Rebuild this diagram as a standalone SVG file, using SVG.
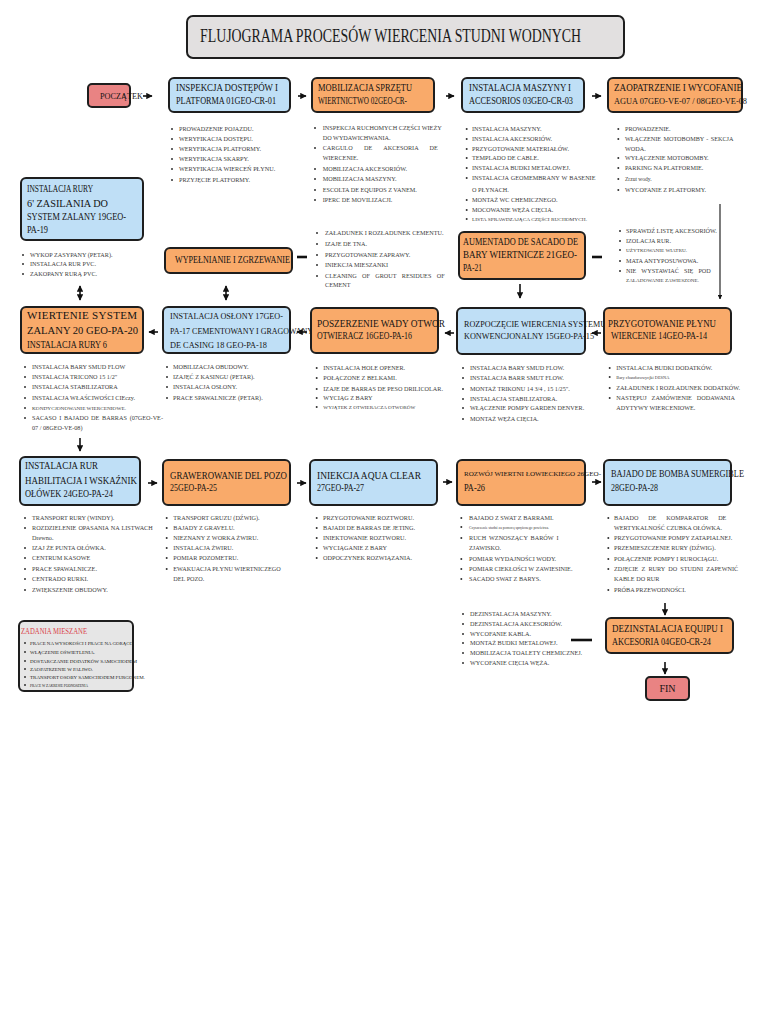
<svg xmlns="http://www.w3.org/2000/svg" xmlns:xlink="http://www.w3.org/1999/xlink" width="768" height="1024" viewBox="0 0 768 1024">
<style>
.box{stroke:#1e1e1e;stroke-width:2}
.blue{fill:#bfdff6}
.orange{fill:#f9aa6a}
.pink{fill:#e98383}
.gray{fill:#e2e0e0}
.t{font-family:"Liberation Serif","Times New Roman",serif;font-size:10.5px;fill:#141414}
.b{font-size:11px}
.tt{font-family:"Liberation Serif","Times New Roman",serif;font-size:18px;fill:#1a1a1a}
.l{font-family:"Liberation Serif","Times New Roman",serif;font-size:6.2px;fill:#3c3c3c}
.sm{font-size:4.6px}
.xs{font-size:3.6px}
.z{font-family:"Liberation Serif","Times New Roman",serif;font-size:4.6px;fill:#222}
.zt{font-family:"Liberation Serif","Times New Roman",serif;font-size:7.5px;fill:#d9434a}
.ar{stroke:#111;stroke-width:1.6;fill:none;marker-end:url(#ah)}
.dash{stroke:#111;stroke-width:2.6}
</style>
<defs>
<marker id="ah" viewBox="0 0 10 10" refX="9" refY="5" markerWidth="4" markerHeight="4" orient="auto-start-reverse"><path d="M0,0 L10,5 L0,10 z" fill="#111"/></marker>
<circle id="dot" cx="0" cy="0" r="1" fill="#333"/>
</defs>
<rect width="768" height="1024" fill="#fff"/>

<g id="connectors">
<line class="ar" x1="143" y1="96" x2="152" y2="96"/>
<line class="ar" x1="298" y1="96" x2="306" y2="96"/>
<line class="ar" x1="446" y1="96" x2="454" y2="96"/>
<line class="ar" x1="592" y1="96" x2="601" y2="96"/>
<line class="ar" x1="720" y1="204" x2="720" y2="299" style="stroke-width:1.1"/>
<line class="ar" x1="520" y1="284" x2="520" y2="298"/>
<line class="ar" x1="80" y1="286" x2="80" y2="300" style="marker-start:url(#ah)"/>
<line class="ar" x1="226" y1="286" x2="226" y2="300" style="marker-start:url(#ah)"/>
<line class="dash" x1="297" y1="257" x2="307" y2="257"/>
<line class="dash" x1="592" y1="257" x2="602" y2="257"/>
<line class="ar" x1="601" y1="333" x2="592" y2="333"/>
<line class="ar" x1="454" y1="333" x2="445" y2="333"/>
<line class="ar" x1="307" y1="332" x2="297" y2="332"/>
<line class="ar" x1="158" y1="332" x2="149" y2="332"/>
<line class="ar" x1="80" y1="438" x2="80" y2="451"/>
<line class="ar" x1="148" y1="483" x2="157" y2="483"/>
<line class="ar" x1="297" y1="483" x2="306" y2="483"/>
<line class="ar" x1="443" y1="482" x2="452" y2="482"/>
<line class="ar" x1="592" y1="482" x2="601" y2="482"/>
<line class="ar" x1="665" y1="603" x2="665" y2="615"/>
<line class="dash" x1="571" y1="640" x2="592" y2="640"/>
<line class="ar" x1="665" y1="662" x2="665" y2="674"/>
</g>

<g id="title">
<rect class="box gray" x="187" y="16" width="437" height="42" rx="6"/>
<text class="tt" x="200" y="42" textLength="381" lengthAdjust="spacingAndGlyphs">FLUJOGRAMA PROCESÓW WIERCENIA STUDNI WODNYCH</text>
</g>

<g id="n-poczatek">
<rect class="box pink" x="88" y="84" width="42" height="23" rx="4"/>
<text class="t" x="100" y="99" style="font-size:9px" textLength="43" lengthAdjust="spacingAndGlyphs">POCZĄTEK</text>
</g>

<g id="n-inspekcja">
<rect class="box blue" x="169" y="78" width="121" height="34" rx="5"/>
<text class="t" x="176" y="91" textLength="102" lengthAdjust="spacingAndGlyphs">INSPEKCJA DOSTĘPÓW I</text>
<text class="t" x="176" y="104" textLength="100" lengthAdjust="spacingAndGlyphs">PLATFORMA 01GEO-CR-01</text>
</g>
<g id="list-inspekcja">
<use xlink:href="#dot" x="172" y="129"/><text class="l" x="179" y="131">PROWADZENIE POJAZDU.</text>
<use xlink:href="#dot" x="172" y="139"/><text class="l" x="179" y="141">WERYFIKACJA DOSTĘPU.</text>
<use xlink:href="#dot" x="172" y="149"/><text class="l" x="179" y="151">WERYFIKACJA PLATFORMY.</text>
<use xlink:href="#dot" x="172" y="159"/><text class="l" x="179" y="161">WERYFIKACJA SKARPY.</text>
<use xlink:href="#dot" x="172" y="169"/><text class="l" x="179" y="171">WERYFIKACJA WIERCEŃ PŁYNU.</text>
<use xlink:href="#dot" x="172" y="180"/><text class="l" x="179" y="182">PRZYJĘCIE PLATFORMY.</text>
</g>

<g id="n-mobilizacja">
<rect class="box orange" x="312" y="78" width="122" height="34" rx="5"/>
<text class="t" x="318" y="91" textLength="94" lengthAdjust="spacingAndGlyphs">MOBILIZACJA SPRZĘTU</text>
<text class="t" x="318" y="104" textLength="89" lengthAdjust="spacingAndGlyphs">WIERTNICTWO 02GEO-CR-</text>
</g>
<g id="list-mobilizacja">
<use xlink:href="#dot" x="315" y="128"/><text class="l" x="322.7" y="130" textLength="119" lengthAdjust="spacingAndGlyphs">INSPEKCJA RUCHOMYCH CZĘŚCI WIEŻY</text>
<text class="l" x="322.7" y="140">DO WYDAWICHWANIA.</text>
<use xlink:href="#dot" x="315" y="148"/><text class="l" x="322.7" y="150" word-spacing="9.8">CARGULO DE AKCESORIA DE</text>
<text class="l" x="322.7" y="160">WIERCENIE.</text>
<use xlink:href="#dot" x="315" y="169"/><text class="l" x="322.7" y="171">MOBILIZACJA AKCESORIÓW.</text>
<use xlink:href="#dot" x="315" y="179"/><text class="l" x="322.7" y="181">MOBILIZACJA MASZYNY.</text>
<use xlink:href="#dot" x="315" y="190"/><text class="l" x="322.7" y="192">ESCOLTA DE EQUIPOS Z VANEM.</text>
<use xlink:href="#dot" x="315" y="200"/><text class="l" x="322.7" y="202">IPERC DE MOVILIZACJI.</text>
</g>

<g id="n-instalacja-maszyny">
<rect class="box blue" x="462" y="78" width="122" height="34" rx="5"/>
<text class="t" x="469" y="91" textLength="102" lengthAdjust="spacingAndGlyphs">INSTALACJA MASZYNY I</text>
<text class="t" x="469" y="104" textLength="104" lengthAdjust="spacingAndGlyphs">ACCESORIOS 03GEO-CR-03</text>
</g>
<g id="list-instalacja-maszyny">
<use xlink:href="#dot" x="466.7" y="129"/><text class="l" x="472" y="131">INSTALACJA MASZYNY.</text>
<use xlink:href="#dot" x="466.7" y="139"/><text class="l" x="472" y="141">INSTALACJA AKCESORIÓW.</text>
<use xlink:href="#dot" x="466.7" y="149"/><text class="l" x="472" y="151">PRZYGOTOWANIE MATERIAŁÓW.</text>
<use xlink:href="#dot" x="466.7" y="158"/><text class="l" x="472" y="160">TEMPLADO DE CABLE.</text>
<use xlink:href="#dot" x="466.7" y="168"/><text class="l" x="472" y="170">INSTALACJA BUDKI METALOWEJ.</text>
<use xlink:href="#dot" x="466.7" y="178"/><text class="l" x="472" y="180" word-spacing="0.5">INSTALACJA GEOMEMBRANY W BASENIE</text>
<text class="l" x="472" y="192">O PŁYNACH.</text>
<use xlink:href="#dot" x="466.7" y="200"/><text class="l" x="472" y="202">MONTAŻ WC CHEMICZNEGO.</text>
<use xlink:href="#dot" x="466.7" y="210"/><text class="l" x="472" y="212">MOCOWANIE WĘŻA CIĘCIA.</text>
<use xlink:href="#dot" x="466.7" y="219"/><text class="l sm" x="472" y="221" textLength="115" lengthAdjust="spacingAndGlyphs">LISTA SPRAWDZAJĄCA CZĘŚCI RUCHOMYCH.</text>
</g>

<g id="n-zaopatrzenie">
<rect class="box orange" x="608" y="78" width="134" height="34" rx="5"/>
<text class="t" x="614" y="91" textLength="128" lengthAdjust="spacingAndGlyphs">ZAOPATRZENIE I WYCOFANIE</text>
<text class="t" x="614" y="104" style="font-size:9.2px" textLength="133" lengthAdjust="spacingAndGlyphs">AGUA 07GEO-VE-07 / 08GEO-VE-08</text>
</g>
<g id="list-zaopatrzenie">
<use xlink:href="#dot" x="618.3" y="129"/><text class="l" x="625" y="131">PROWADZENIE.</text>
<use xlink:href="#dot" x="618.3" y="139"/><text class="l" x="625" y="141" word-spacing="0.8">WŁĄCZENIE MOTOBOMBY - SEKCJA</text>
<text class="l" x="625" y="151">WODA.</text>
<use xlink:href="#dot" x="618.3" y="158"/><text class="l" x="625" y="160">WYŁĄCZENIE MOTOBOMBY.</text>
<use xlink:href="#dot" x="618.3" y="168"/><text class="l" x="625" y="170">PARKING NA PLATFORMIE.</text>
<use xlink:href="#dot" x="618.3" y="179"/><text class="l" x="625" y="181" style="font-size:5.5px">Zrzut wody.</text>
<use xlink:href="#dot" x="618.3" y="190"/><text class="l" x="625" y="192">WYCOFANIE Z PLATFORMY.</text>
</g>

<g id="n-instalacja-rury">
<rect class="box blue" x="21" y="178" width="122" height="62" rx="5"/>
<text class="t b" x="27" y="192" textLength="66" lengthAdjust="spacingAndGlyphs">INSTALACJA RURY</text>
<text class="t b" x="27" y="207" textLength="81" lengthAdjust="spacingAndGlyphs">6' ZASILANIA DO</text>
<text class="t b" x="27" y="220" textLength="99" lengthAdjust="spacingAndGlyphs">SYSTEM ZALANY 19GEO-</text>
<text class="t b" x="27" y="233" textLength="21" lengthAdjust="spacingAndGlyphs">PA-19</text>
</g>
<g id="list-instalacja-rury">
<use xlink:href="#dot" x="23" y="255"/><text class="l" x="30" y="257">WYKOP ZASYPANY (PETAR).</text>
<use xlink:href="#dot" x="23" y="264"/><text class="l" x="30" y="266">INSTALACJA RUR PVC.</text>
<use xlink:href="#dot" x="23" y="274"/><text class="l" x="30" y="276">ZAKOPANY RURĄ PVC.</text>
</g>

<g id="n-wypelnianie">
<rect class="box orange" x="165" y="248" width="127" height="25" rx="5"/>
<text class="t" x="175" y="263" style="font-size:10px" textLength="115" lengthAdjust="spacingAndGlyphs">WYPEŁNIANIE I ZGRZEWANIE</text>
</g>
<g id="list-wypelnianie">
<use xlink:href="#dot" x="317" y="233"/><text class="l" x="325" y="235">ZAŁADUNEK I ROZŁADUNEK CEMENTU.</text>
<use xlink:href="#dot" x="317" y="244"/><text class="l" x="325" y="246">IZAJE DE TNA.</text>
<use xlink:href="#dot" x="317" y="255"/><text class="l" x="325" y="257">PRZYGOTOWANIE ZAPRAWY.</text>
<use xlink:href="#dot" x="317" y="265"/><text class="l" x="325" y="267">INIEKCJA MIESZANKI</text>
<use xlink:href="#dot" x="317" y="276"/><text class="l" x="325" y="278" word-spacing="3.8">CLEANING OF GROUT RESIDUES OF</text>
<text class="l" x="325" y="287">CEMENT</text>
</g>

<g id="n-aumentado">
<rect class="box orange" x="459" y="232" width="126" height="47" rx="5"/>
<text class="t b" x="463" y="245" textLength="115" lengthAdjust="spacingAndGlyphs">AUMENTADO DE SACADO DE</text>
<text class="t b" x="463" y="258" textLength="114" lengthAdjust="spacingAndGlyphs">BARY WIERTNICZE 21GEO-</text>
<text class="t b" x="463" y="271" textLength="19" lengthAdjust="spacingAndGlyphs">PA-21</text>
</g>
<g id="list-aumentado">
<use xlink:href="#dot" x="620" y="231"/><text class="l" x="626" y="233">SPRAWDŹ LISTĘ AKCESORIÓW.</text>
<use xlink:href="#dot" x="620" y="241"/><text class="l" x="626" y="243">IZOLACJA RUR.</text>
<use xlink:href="#dot" x="620" y="250"/><text class="l sm" x="626" y="252" textLength="61" lengthAdjust="spacingAndGlyphs">UŻYTKOWANIE WIATRU.</text>
<use xlink:href="#dot" x="620" y="261"/><text class="l" x="626" y="263">MATA ANTYPOSUWOWA.</text>
<use xlink:href="#dot" x="620" y="271"/><text class="l" x="626" y="273" word-spacing="3.6">NIE WYSTAWIAĆ SIĘ POD</text>
<text class="l sm" x="626" y="282" textLength="73" lengthAdjust="spacingAndGlyphs">ZAŁADOWANIE ZAWIESZONE.</text>
</g>

<g id="n-wiertenie">
<rect class="box orange" x="21" y="307" width="122" height="46" rx="5"/>
<text class="t b" x="27" y="319" textLength="110" lengthAdjust="spacing">WIERTENIE SYSTEM</text>
<text class="t b" x="27" y="334" textLength="111" lengthAdjust="spacingAndGlyphs">ZALANY 20 GEO-PA-20</text>
<text class="t b" x="27" y="348" textLength="80" lengthAdjust="spacingAndGlyphs">INSTALACJA RURY 6</text>
</g>
<g id="list-wiertenie">
<use xlink:href="#dot" x="25" y="367"/><text class="l" x="32" y="369">INSTALACJA BARY SMUD FLOW</text>
<use xlink:href="#dot" x="25" y="377"/><text class="l" x="32" y="379">INSTALACJA TRICONO 15 1/2"</text>
<use xlink:href="#dot" x="25" y="387"/><text class="l" x="32" y="389">INSTALACJA STABILIZATORA</text>
<use xlink:href="#dot" x="25" y="398"/><text class="l" x="32" y="400">INSTALACJA WŁAŚCIWOŚCI CIEczy.</text>
<use xlink:href="#dot" x="25" y="408"/><text class="l sm" x="32" y="410" textLength="94" lengthAdjust="spacingAndGlyphs">KONDYCJONOWANIE WIERCENIOWE.</text>
<use xlink:href="#dot" x="25" y="418"/><text class="l" x="32" y="420" word-spacing="1.2">SACASO I BAJADO DE BARRAS (07GEO-VE-</text>
<text class="l" x="32" y="430">07 / 08GEO-VE-08)</text>
</g>

<g id="n-oslony">
<rect class="box blue" x="163" y="307" width="127" height="46" rx="5"/>
<text class="t" x="170" y="319" style="font-size:8.2px" textLength="113" lengthAdjust="spacingAndGlyphs">INSTALACJA OSŁONY 17GEO-</text>
<text class="t" x="170" y="334" style="font-size:7.9px" textLength="143" lengthAdjust="spacingAndGlyphs">PA-17 CEMENTOWANY I GRAGOWANY</text>
<text class="t" x="170" y="348" style="font-size:8.2px" textLength="97" lengthAdjust="spacingAndGlyphs">DE CASING 18 GEO-PA-18</text>
</g>
<g id="list-oslony">
<use xlink:href="#dot" x="167" y="367"/><text class="l" x="173" y="369">MOBILIZACJA OBUDOWY.</text>
<use xlink:href="#dot" x="167" y="377"/><text class="l" x="173" y="379">IZAJĘĆ Z KASINGU (PETAR).</text>
<use xlink:href="#dot" x="167" y="387"/><text class="l" x="173" y="389">INSTALACJA OSŁONY.</text>
<use xlink:href="#dot" x="167" y="398"/><text class="l" x="173" y="400">PRACE SPAWALNICZE (PETAR).</text>
</g>

<g id="n-poszerzenie">
<rect class="box orange" x="311" y="308" width="127" height="45" rx="5"/>
<text class="t" x="317" y="327" style="font-size:10.2px" textLength="128" lengthAdjust="spacingAndGlyphs">POSZERZENIE WADY OTWOR</text>
<text class="t" x="317" y="339" style="font-size:10.2px" textLength="95" lengthAdjust="spacingAndGlyphs">OTWIERACZ 16GEO-PA-16</text>
</g>
<g id="list-poszerzenie">
<use xlink:href="#dot" x="316.7" y="368"/><text class="l" x="323.3" y="370">INSTALACJA HOLE OPENER.</text>
<use xlink:href="#dot" x="316.7" y="378"/><text class="l" x="323.3" y="380">POŁĄCZONE Z BELKAMI.</text>
<use xlink:href="#dot" x="316.7" y="389"/><text class="l" x="323.3" y="391">IZAJE DE BARRAS DE PESO DRILICOLAR.</text>
<use xlink:href="#dot" x="316.7" y="398"/><text class="l" x="323.3" y="400">WYCIĄG Z BARY</text>
<use xlink:href="#dot" x="316.7" y="407"/><text class="l sm" x="323.3" y="409" textLength="92" lengthAdjust="spacingAndGlyphs">WYJĄTEK Z OTWIERACZA OTWORÓW</text>
</g>

<g id="n-rozpoczecie">
<rect class="box blue" x="457" y="308" width="128" height="46" rx="5"/>
<text class="t" x="464" y="327" style="font-size:8.1px" textLength="142" lengthAdjust="spacingAndGlyphs">ROZPOCZĘCIE WIERCENIA SYSTEMU</text>
<text class="t" x="464" y="339" style="font-size:8.1px" textLength="130" lengthAdjust="spacingAndGlyphs">KONWENCJONALNY 15GEO-PA-15</text>
</g>
<g id="list-rozpoczecie">
<use xlink:href="#dot" x="463" y="368"/><text class="l" x="470" y="370">INSTALACJA BARY SMUD FLOW.</text>
<use xlink:href="#dot" x="463" y="378"/><text class="l" x="470" y="380">INSTALACJA BARR SMUT FLOW.</text>
<use xlink:href="#dot" x="463" y="389"/><text class="l" x="470" y="391">MONTAŻ TRIKONU 14 3/4 , 15 1/25".</text>
<use xlink:href="#dot" x="463" y="399"/><text class="l" x="470" y="401">INSTALACJA STABILIZATORA.</text>
<use xlink:href="#dot" x="463" y="408"/><text class="l" x="470" y="410">WŁĄCZENIE POMPY GARDEN DENVER.</text>
<use xlink:href="#dot" x="463" y="419"/><text class="l" x="470" y="421">MONTAŻ WĘŻA CIĘCIA.</text>
</g>

<g id="n-przygotowanie">
<rect class="box orange" x="604" y="308" width="127" height="46" rx="5"/>
<text class="t" x="608" y="327" textLength="108" lengthAdjust="spacingAndGlyphs">PRZYGOTOWANIE PŁYNU</text>
<text class="t" x="611" y="339" textLength="96" lengthAdjust="spacingAndGlyphs">WIERCENIE 14GEO-PA-14</text>
</g>
<g id="list-przygotowanie">
<use xlink:href="#dot" x="609.7" y="368"/><text class="l" x="616.3" y="370">INSTALACJA BUDKI DODATKÓW.</text>
<use xlink:href="#dot" x="609.7" y="377"/><text class="l xs" x="616.3" y="379" textLength="53" lengthAdjust="spacingAndGlyphs">Bary chandorowycjki DESNA</text>
<use xlink:href="#dot" x="609.7" y="388"/><text class="l" x="616.3" y="390">ZAŁADUNEK I ROZŁADUNEK DODATKÓW.</text>
<use xlink:href="#dot" x="609.7" y="398"/><text class="l" x="616.3" y="400" word-spacing="3.5">NASTĘPUJ ZAMÓWIENIE DODAWANIA</text>
<text class="l" x="616.3" y="410">ADYTYWY WIERCENIOWE.</text>
</g>

<g id="n-instalacja-rur">
<rect class="box blue" x="20" y="457" width="120" height="48" rx="5"/>
<text class="t b" x="25" y="469" textLength="73" lengthAdjust="spacingAndGlyphs">INSTALACJA RUR</text>
<text class="t b" x="25" y="484" textLength="112" lengthAdjust="spacingAndGlyphs">HABILITACJA I WSKAŹNIK</text>
<text class="t b" x="25" y="497" textLength="88" lengthAdjust="spacingAndGlyphs">OŁÓWEK 24GEO-PA-24</text>
</g>
<g id="list-instalacja-rur">
<use xlink:href="#dot" x="25" y="518"/><text class="l" x="32" y="520">TRANSPORT RURY (WINDY).</text>
<use xlink:href="#dot" x="25" y="528"/><text class="l" x="32" y="530" word-spacing="0.5">ROZDZIELENIE OPASANIA NA LISTWACH</text>
<text class="l" x="32" y="540">Drewno.</text>
<use xlink:href="#dot" x="25" y="548"/><text class="l" x="32" y="550">IZAJ ŻE PUNTA OŁÓWKA.</text>
<use xlink:href="#dot" x="25" y="558"/><text class="l" x="32" y="560">CENTRUM KASOWE</text>
<use xlink:href="#dot" x="25" y="569"/><text class="l" x="32" y="571">PRACE SPAWALNICZE.</text>
<use xlink:href="#dot" x="25" y="579"/><text class="l" x="32" y="581">CENTRADO RURKI.</text>
<use xlink:href="#dot" x="25" y="590"/><text class="l" x="32" y="592">ZWIĘKSZENIE OBUDOWY.</text>
</g>

<g id="n-grawerowanie">
<rect class="box orange" x="163" y="460" width="127" height="45" rx="5"/>
<text class="t" x="170" y="479" textLength="117" lengthAdjust="spacingAndGlyphs">GRAWEROWANIE DEL POZO</text>
<text class="t" x="170" y="491" textLength="47" lengthAdjust="spacingAndGlyphs">25GEO-PA-25</text>
</g>
<g id="list-grawerowanie">
<use xlink:href="#dot" x="166.7" y="518"/><text class="l" x="173.3" y="520">TRANSPORT GRUZU (DŹWIG).</text>
<use xlink:href="#dot" x="166.7" y="528"/><text class="l" x="173.3" y="530">BAJADY Z GRAVELU.</text>
<use xlink:href="#dot" x="166.7" y="538"/><text class="l" x="173.3" y="540">NIEZNANY Z WORKA ŻWIRU.</text>
<use xlink:href="#dot" x="166.7" y="548"/><text class="l" x="173.3" y="550">INSTALACJA ŻWIRU.</text>
<use xlink:href="#dot" x="166.7" y="558"/><text class="l" x="173.3" y="560">POMIAR POZOMETRU.</text>
<use xlink:href="#dot" x="166.7" y="569"/><text class="l" x="173.3" y="571">EWAKUACJA PŁYNU WIERTNICZEGO</text>
<text class="l" x="173.3" y="581">DEL POZO.</text>
</g>

<g id="n-iniekcja">
<rect class="box blue" x="310" y="460" width="127" height="45" rx="5"/>
<text class="t" x="317" y="479" textLength="104" lengthAdjust="spacingAndGlyphs">INIEKCJA AQUA CLEAR</text>
<text class="t" x="317" y="491" textLength="47" lengthAdjust="spacingAndGlyphs">27GEO-PA-27</text>
</g>
<g id="list-iniekcja">
<use xlink:href="#dot" x="316.7" y="518"/><text class="l" x="323" y="520">PRZYGOTOWANIE ROZTWORU.</text>
<use xlink:href="#dot" x="316.7" y="528"/><text class="l" x="323" y="530">BAJADI DE BARRAS DE JETING.</text>
<use xlink:href="#dot" x="316.7" y="538"/><text class="l" x="323" y="540">INIEKTOWANIE ROZTWORU.</text>
<use xlink:href="#dot" x="316.7" y="548"/><text class="l" x="323" y="550">WYCIĄGANIE Z BARY</text>
<use xlink:href="#dot" x="316.7" y="558"/><text class="l" x="323" y="560">ODPOCZYNEK ROZWIĄZANIA.</text>
</g>

<g id="n-rozwoj">
<rect class="box orange" x="457" y="460" width="128" height="45" rx="5"/>
<text class="t" x="464" y="476" style="font-size:7px" textLength="137" lengthAdjust="spacingAndGlyphs">ROZWÓJ WIERTNI ŁOWIECKIEGO 26GEO-</text>
<text class="t" x="464" y="491" textLength="21" lengthAdjust="spacingAndGlyphs">PA-26</text>
</g>
<g id="list-rozwoj">
<use xlink:href="#dot" x="461.3" y="518"/><text class="l" x="469" y="520">BAJADO Z SWAT Z BARRAMI.</text>
<use xlink:href="#dot" x="461.3" y="527"/><text class="l xs" x="469" y="529" textLength="80" lengthAdjust="spacingAndGlyphs">Czyszczenie studni za pomocą sprężonego powietrza.</text>
<use xlink:href="#dot" x="461.3" y="538"/><text class="l" x="469" y="540" word-spacing="1.4">RUCH WZNOSZĄCY BARÓW I</text>
<text class="l" x="469" y="550">ZJAWISKO.</text>
<use xlink:href="#dot" x="461.3" y="559"/><text class="l" x="469" y="561">POMIAR WYDAJNOŚCI WODY.</text>
<use xlink:href="#dot" x="461.3" y="569"/><text class="l" x="469" y="571">POMIAR CIEKŁOŚCI W ZAWIESINIE.</text>
<use xlink:href="#dot" x="461.3" y="579"/><text class="l" x="469" y="581">SACADO SWAT Z BARYS.</text>
</g>

<g id="n-bajado-bomba">
<rect class="box blue" x="604" y="460" width="127" height="45" rx="5"/>
<text class="t" x="611" y="477" style="font-size:9.5px" textLength="133" lengthAdjust="spacingAndGlyphs">BAJADO DE BOMBA SUMERGIBLE</text>
<text class="t" x="611" y="491" textLength="47" lengthAdjust="spacingAndGlyphs">28GEO-PA-28</text>
</g>
<g id="list-bajado-bomba">
<use xlink:href="#dot" x="608.3" y="518"/><text class="l" x="614" y="520" word-spacing="8.3">BAJADO DE KOMPARATOR DE</text>
<text class="l" x="614" y="530">WERTYKALNOŚĆ CZUBKA OŁÓWKA.</text>
<use xlink:href="#dot" x="608.3" y="538"/><text class="l" x="614" y="540">PRZYGOTOWANIE POMPY ZATAPIALNEJ.</text>
<use xlink:href="#dot" x="608.3" y="548"/><text class="l" x="614" y="550">PRZEMIESZCZENIE RURY (DŹWIG).</text>
<use xlink:href="#dot" x="608.3" y="559"/><text class="l" x="614" y="561">POŁĄCZENIE POMPY I RUROCIĄGU.</text>
<use xlink:href="#dot" x="608.3" y="569"/><text class="l" x="614" y="571" word-spacing="1.6">ZDJĘCIE Z RURY DO STUDNI ZAPEWNIĆ</text>
<text class="l" x="614" y="581">KABLE DO RUR</text>
<use xlink:href="#dot" x="608.3" y="590"/><text class="l" x="614" y="592">PRÓBA PRZEWODNOŚCI.</text>
</g>

<g id="n-dezinstalacja">
<rect class="box orange" x="606" y="618" width="127" height="35" rx="5"/>
<text class="t" x="612" y="632" textLength="111" lengthAdjust="spacingAndGlyphs">DEZINSTALACJA EQUIPU I</text>
<text class="t" x="612" y="645" textLength="99" lengthAdjust="spacingAndGlyphs">AKCESORIA 04GEO-CR-24</text>
</g>
<g id="list-dezinstalacja">
<use xlink:href="#dot" x="463" y="614"/><text class="l" x="470" y="616">DEZINSTALACJA MASZYNY.</text>
<use xlink:href="#dot" x="463" y="624"/><text class="l" x="470" y="626">DEZINSTALACJA AKCESORIÓW.</text>
<use xlink:href="#dot" x="463" y="634"/><text class="l" x="470" y="636">WYCOFANIE KABLA.</text>
<use xlink:href="#dot" x="463" y="643"/><text class="l" x="470" y="645">MONTAŻ BUDKI METALOWEJ.</text>
<use xlink:href="#dot" x="463" y="653"/><text class="l" x="470" y="655">MOBILIZACJA TOALETY CHEMICZNEJ.</text>
<use xlink:href="#dot" x="463" y="663"/><text class="l" x="470" y="665">WYCOFANIE CIĘCIA WĘŻA.</text>
</g>

<g id="n-fin">
<rect class="box pink" x="646" y="677" width="43" height="23" rx="4"/>
<text class="t" x="667.5" y="692" text-anchor="middle" style="font-size:10px">FIN</text>
</g>

<g id="n-zadania">
<rect class="box" x="19" y="621" width="114" height="70" rx="5" style="fill:#e6e6e6"/>
<text class="zt" x="21" y="634" textLength="66" lengthAdjust="spacingAndGlyphs">ZADANIA MIESZANE</text>
<use xlink:href="#dot" x="25" y="643"/><text class="z" x="30" y="645" textLength="103" lengthAdjust="spacingAndGlyphs">PRACE NA WYSOKOŚCI I PRACE NA GORĄCO</text>
<use xlink:href="#dot" x="25" y="652"/><text class="z" x="30" y="654" textLength="65" lengthAdjust="spacingAndGlyphs">WŁĄCZENIE OŚWIETLENIA.</text>
<use xlink:href="#dot" x="25" y="661"/><text class="z" x="30" y="663" textLength="107" lengthAdjust="spacingAndGlyphs">DOSTARCZANIE DODATKÓW SAMOCHODEM</text>
<use xlink:href="#dot" x="25" y="669"/><text class="z" x="30" y="671" textLength="63" lengthAdjust="spacingAndGlyphs">ZAOPATRZENIE W PALIWO.</text>
<use xlink:href="#dot" x="25" y="677"/><text class="z" x="30" y="679" textLength="115" lengthAdjust="spacingAndGlyphs">TRANSPORT OSOBY SAMOCHODEM FURGONEM.</text>
<use xlink:href="#dot" x="25" y="685"/><text class="z" x="30" y="687" style="font-size:3.4px" textLength="58" lengthAdjust="spacingAndGlyphs">PRACE W ZAKRESIE PODNOSZENIA</text>
</g>
</svg>
